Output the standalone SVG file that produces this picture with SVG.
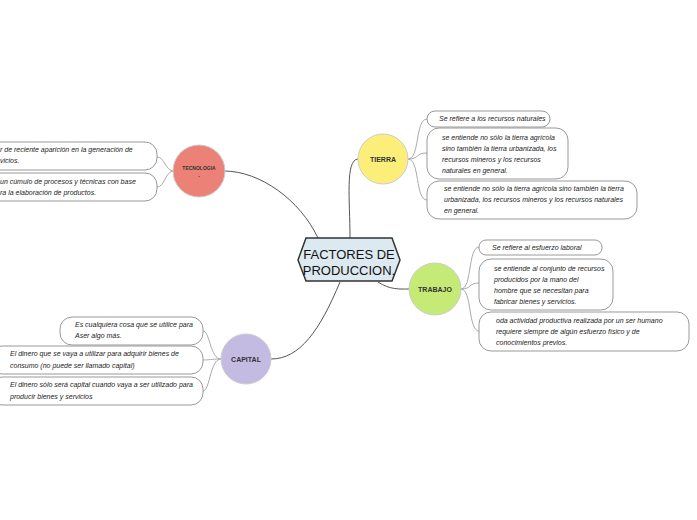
<svg xmlns="http://www.w3.org/2000/svg" width="697" height="520" viewBox="0 0 697 520">
<style>
.b{fill:#fff;stroke:#999;stroke-width:1}
.t{font-family:"Liberation Sans",sans-serif;font-style:italic;font-size:7px;fill:#222}
.n{font-family:"Liberation Sans",sans-serif;font-weight:bold;font-size:7px;fill:#333;text-anchor:middle}
.c{fill:none;stroke:#555;stroke-width:1}
.s{fill:none;stroke:#aaa;stroke-width:1}
</style>
<defs><clipPath id="cp"><rect x="298" y="238" width="103" height="43"/></clipPath></defs>
<rect width="697" height="520" fill="#fff"/>
<g id="connectors">
<path class="c" d="M350 238 C350 200 345 160 358 159"/>
<path class="c" d="M378 282 C390 290 400 289 409 289"/>
<path class="c" d="M340 282 C320 330 300 359 271 359"/>
<path class="c" d="M318 238 C300 200 260 171 224 171"/>
<path class="s" d="M408 159 C420 159 415 119 427 119 M408 159 C420 159 415 153 427 153 M408 159 C420 159 415 200 427 200"/>
<path class="s" d="M461 289 C472 289 468 247 479 247 M461 289 C472 289 468 283 479 283 M461 289 C472 289 468 331 479 331"/>
<path class="s" d="M221 359 C210 359 210 331 203 331 M221 359 C210 359 210 360 203 360 M221 359 C210 359 210 391 203 391"/>
<path class="s" d="M174 171 C165 171 165 157 157 157 M174 171 C165 171 165 187 157 187"/>
</g>
<g id="center">
<polygon points="306,238 392,238 400,260 392,281 306,281 298,260" fill="#dde9f0" stroke="#333" stroke-width="1.5"/>
<g clip-path="url(#cp)"><text x="349" y="259" class="n" style="font-size:13px;font-weight:normal;fill:#111">FACTORES DE</text><text x="349" y="275" class="n" style="font-size:13px;font-weight:normal;fill:#111">PRODUCCION.</text></g>
</g>
<g id="tierra"><circle cx="383" cy="159" r="25" fill="#fbee79" stroke="#ccc"/><text x="383" y="162" class="n">TIERRA</text></g>
<g id="trabajo"><circle cx="435" cy="289" r="26" fill="#c5ea76" stroke="#ccc"/><text x="435" y="292" class="n">TRABAJO</text></g>
<g id="capital"><circle cx="246" cy="359" r="25" fill="#c4bbe3" stroke="#ccc"/><text x="246" y="362" class="n">CAPITAL</text></g>
<g id="tecnologia"><circle cx="199" cy="171" r="26" fill="#ec8177" stroke="#ccc"/><text x="199" y="170" class="n" style="font-size:5px">TECNOLOGIA</text><text x="199" y="178" class="n" style="font-size:5px">-</text></g>
<g id="t1"><rect class="b" x="427" y="111" width="123" height="16" rx="8"/><text class="t" x="439" y="121">Se refiere a los recursos naturales</text></g>
<g id="t2"><rect class="b" x="427" y="128" width="141" height="51" rx="12"/><text class="t" x="442" y="140">se entiende no sólo la tierra agrícola</text><text class="t" x="442" y="151">sino también la tierra urbanizada, los</text><text class="t" x="442" y="162">recursos mineros y los recursos</text><text class="t" x="442" y="173">naturales en general.</text></g>
<g id="t3"><rect class="b" x="427" y="181" width="210" height="38" rx="12"/><text class="t" x="444" y="191">se entiende no sólo la tierra agrícola sino también la tierra</text><text class="t" x="444" y="202">urbanizada, los recursos mineros y los recursos naturales</text><text class="t" x="444" y="213">en general.</text></g>
<g id="w1"><rect class="b" x="479" y="240" width="123" height="15" rx="7"/><text class="t" x="492" y="250">Se refiere al esfuerzo laboral</text></g>
<g id="w2"><rect class="b" x="479" y="259" width="134" height="51" rx="12"/><text class="t" x="494" y="271">se entiende al conjunto de recursos</text><text class="t" x="494" y="282">producidos  por la mano del</text><text class="t" x="494" y="293">hombre que se necesitan para</text><text class="t" x="494" y="304">fabricar bienes y servicios.</text></g>
<g id="w3"><rect class="b" x="479" y="312" width="210" height="39" rx="12"/><text class="t" x="496" y="323">oda actividad productiva realizada por un ser humano</text><text class="t" x="496" y="334">requiere siempre de algún esfuerzo físico y de</text><text class="t" x="496" y="345">conocimientos previos.</text></g>
<g id="c1"><rect class="b" x="60" y="317" width="143" height="28" rx="12"/><text class="t" x="75" y="327">Es cualquiera cosa que se utilice para</text><text class="t" x="75" y="338">Aser algo más.</text></g>
<g id="c2"><rect class="b" x="-10" y="346" width="213" height="28" rx="12"/><text class="t" x="10" y="356">El dinero que se vaya a utilizar para adquirir bienes de</text><text class="t" x="10" y="368">consumo (no puede ser llamado capital)</text></g>
<g id="c3"><rect class="b" x="-10" y="377" width="213" height="28" rx="12"/><text class="t" x="10" y="387">El dinero sólo será capital cuando vaya a ser utilizado para</text><text class="t" x="10" y="399">producir bienes y servicios</text></g>
<g id="g1"><rect class="b" x="-20" y="142" width="177" height="28" rx="12"/><text class="t" x="0" y="152">r de reciente aparición en la generación de</text><text class="t" x="0" y="163">vicios.</text></g>
<g id="g2"><rect class="b" x="-20" y="173" width="177" height="28" rx="12"/><text class="t" x="0" y="184">un cúmulo de procesos y técnicas con base</text><text class="t" x="0" y="195">ra la elaboración de productos.</text></g>
</svg>
